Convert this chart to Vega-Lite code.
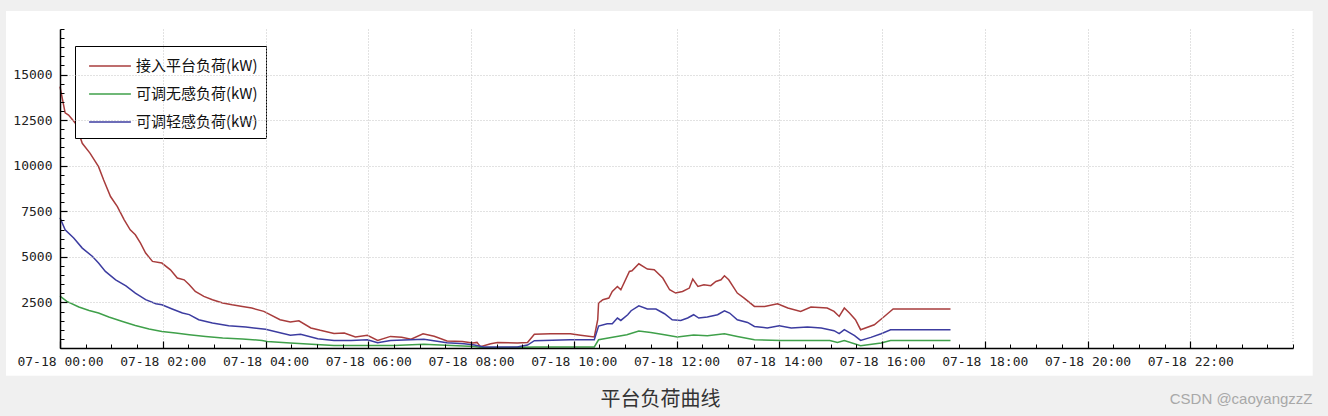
{
  "$schema": "https://vega.github.io/schema/vega-lite/v6.json",
  "width": 1233,
  "height": 319,
  "autosize": {"type": "none"},
  "padding": {"left": 60, "top": 29, "right": 35, "bottom": 68},
  "background": "#f0f0f0",
  "config": {"view": {"stroke": null}},
  "datasets": {
    "loads": [
      {"t": "2024-07-18T00:00", "s": "接入平台负荷(kW)", "v": 14340},
      {"t": "2024-07-18T00:06", "s": "接入平台负荷(kW)", "v": 12900},
      {"t": "2024-07-18T00:10", "s": "接入平台负荷(kW)", "v": 12780},
      {"t": "2024-07-18T00:18", "s": "接入平台负荷(kW)", "v": 12330},
      {"t": "2024-07-18T00:26", "s": "接入平台负荷(kW)", "v": 11230},
      {"t": "2024-07-18T00:35", "s": "接入平台负荷(kW)", "v": 10690},
      {"t": "2024-07-18T00:45", "s": "接入平台负荷(kW)", "v": 9950},
      {"t": "2024-07-18T00:51", "s": "接入平台负荷(kW)", "v": 9220},
      {"t": "2024-07-18T00:59", "s": "接入平台负荷(kW)", "v": 8310},
      {"t": "2024-07-18T01:07", "s": "接入平台负荷(kW)", "v": 7760},
      {"t": "2024-07-18T01:15", "s": "接入平台负荷(kW)", "v": 7030},
      {"t": "2024-07-18T01:22", "s": "接入平台负荷(kW)", "v": 6480},
      {"t": "2024-07-18T01:28", "s": "接入平台负荷(kW)", "v": 6210},
      {"t": "2024-07-18T01:34", "s": "接入平台负荷(kW)", "v": 5750},
      {"t": "2024-07-18T01:40", "s": "接入平台负荷(kW)", "v": 5210},
      {"t": "2024-07-18T01:48", "s": "接入平台负荷(kW)", "v": 4750},
      {"t": "2024-07-18T01:59", "s": "接入平台负荷(kW)", "v": 4660},
      {"t": "2024-07-18T02:09", "s": "接入平台负荷(kW)", "v": 4290},
      {"t": "2024-07-18T02:17", "s": "接入平台负荷(kW)", "v": 3840},
      {"t": "2024-07-18T02:25", "s": "接入平台负荷(kW)", "v": 3740},
      {"t": "2024-07-18T02:31", "s": "接入平台负荷(kW)", "v": 3470},
      {"t": "2024-07-18T02:38", "s": "接入平台负荷(kW)", "v": 3100},
      {"t": "2024-07-18T02:48", "s": "接入平台负荷(kW)", "v": 2830},
      {"t": "2024-07-18T02:58", "s": "接入平台负荷(kW)", "v": 2650},
      {"t": "2024-07-18T03:10", "s": "接入平台负荷(kW)", "v": 2470},
      {"t": "2024-07-18T03:21", "s": "接入平台负荷(kW)", "v": 2370},
      {"t": "2024-07-18T03:33", "s": "接入平台负荷(kW)", "v": 2280},
      {"t": "2024-07-18T03:44", "s": "接入平台负荷(kW)", "v": 2190},
      {"t": "2024-07-18T03:58", "s": "接入平台负荷(kW)", "v": 2010},
      {"t": "2024-07-18T04:17", "s": "接入平台负荷(kW)", "v": 1550},
      {"t": "2024-07-18T04:29", "s": "接入平台负荷(kW)", "v": 1430},
      {"t": "2024-07-18T04:39", "s": "接入平台负荷(kW)", "v": 1490},
      {"t": "2024-07-18T04:53", "s": "接入平台负荷(kW)", "v": 1100},
      {"t": "2024-07-18T05:04", "s": "接入平台负荷(kW)", "v": 970},
      {"t": "2024-07-18T05:20", "s": "接入平台负荷(kW)", "v": 800},
      {"t": "2024-07-18T05:32", "s": "接入平台负荷(kW)", "v": 820},
      {"t": "2024-07-18T05:45", "s": "接入平台负荷(kW)", "v": 610},
      {"t": "2024-07-18T05:59", "s": "接入平台负荷(kW)", "v": 700},
      {"t": "2024-07-18T06:11", "s": "接入平台负荷(kW)", "v": 420},
      {"t": "2024-07-18T06:26", "s": "接入平台负荷(kW)", "v": 636},
      {"t": "2024-07-18T06:39", "s": "接入平台负荷(kW)", "v": 590},
      {"t": "2024-07-18T06:50", "s": "接入平台负荷(kW)", "v": 480},
      {"t": "2024-07-18T07:04", "s": "接入平台负荷(kW)", "v": 780},
      {"t": "2024-07-18T07:17", "s": "接入平台负荷(kW)", "v": 640},
      {"t": "2024-07-18T07:32", "s": "接入平台负荷(kW)", "v": 390},
      {"t": "2024-07-18T07:50", "s": "接入平台负荷(kW)", "v": 360},
      {"t": "2024-07-18T08:02", "s": "接入平台负荷(kW)", "v": 274},
      {"t": "2024-07-18T08:07", "s": "接入平台负荷(kW)", "v": 307},
      {"t": "2024-07-18T08:11", "s": "接入平台负荷(kW)", "v": 70},
      {"t": "2024-07-18T08:23", "s": "接入平台负荷(kW)", "v": 236},
      {"t": "2024-07-18T08:31", "s": "接入平台负荷(kW)", "v": 307},
      {"t": "2024-07-18T08:54", "s": "接入平台负荷(kW)", "v": 274},
      {"t": "2024-07-18T09:06", "s": "接入平台负荷(kW)", "v": 307},
      {"t": "2024-07-18T09:14", "s": "接入平台负荷(kW)", "v": 750},
      {"t": "2024-07-18T09:33", "s": "接入平台负荷(kW)", "v": 784},
      {"t": "2024-07-18T09:56", "s": "接入平台负荷(kW)", "v": 784},
      {"t": "2024-07-18T10:08", "s": "接入平台负荷(kW)", "v": 700},
      {"t": "2024-07-18T10:24", "s": "接入平台负荷(kW)", "v": 603},
      {"t": "2024-07-18T10:28", "s": "接入平台负荷(kW)", "v": 1551},
      {"t": "2024-07-18T10:29", "s": "接入平台负荷(kW)", "v": 2466},
      {"t": "2024-07-18T10:34", "s": "接入平台负荷(kW)", "v": 2647},
      {"t": "2024-07-18T10:41", "s": "接入平台负荷(kW)", "v": 2740},
      {"t": "2024-07-18T10:45", "s": "接入平台负荷(kW)", "v": 3102},
      {"t": "2024-07-18T10:51", "s": "接入平台负荷(kW)", "v": 3376},
      {"t": "2024-07-18T10:55", "s": "接入平台负荷(kW)", "v": 3195},
      {"t": "2024-07-18T11:05", "s": "接入平台负荷(kW)", "v": 4198},
      {"t": "2024-07-18T11:08", "s": "接入平台负荷(kW)", "v": 4236},
      {"t": "2024-07-18T11:16", "s": "接入平台负荷(kW)", "v": 4620},
      {"t": "2024-07-18T11:26", "s": "接入平台负荷(kW)", "v": 4329},
      {"t": "2024-07-18T11:34", "s": "接入平台负荷(kW)", "v": 4291},
      {"t": "2024-07-18T11:44", "s": "接入平台负荷(kW)", "v": 3836},
      {"t": "2024-07-18T11:52", "s": "接入平台负荷(kW)", "v": 3195},
      {"t": "2024-07-18T11:59", "s": "接入平台负荷(kW)", "v": 3014},
      {"t": "2024-07-18T12:07", "s": "接入平台负荷(kW)", "v": 3102},
      {"t": "2024-07-18T12:15", "s": "接入平台负荷(kW)", "v": 3288},
      {"t": "2024-07-18T12:19", "s": "接入平台负荷(kW)", "v": 3781},
      {"t": "2024-07-18T12:25", "s": "接入平台负荷(kW)", "v": 3376},
      {"t": "2024-07-18T12:32", "s": "接入平台负荷(kW)", "v": 3469},
      {"t": "2024-07-18T12:40", "s": "接入平台负荷(kW)", "v": 3420},
      {"t": "2024-07-18T12:46", "s": "接入平台负荷(kW)", "v": 3650},
      {"t": "2024-07-18T12:52", "s": "接入平台负荷(kW)", "v": 3743},
      {"t": "2024-07-18T12:56", "s": "接入平台负荷(kW)", "v": 3962},
      {"t": "2024-07-18T13:01", "s": "接入平台负荷(kW)", "v": 3743},
      {"t": "2024-07-18T13:11", "s": "接入平台负荷(kW)", "v": 3014},
      {"t": "2024-07-18T13:19", "s": "接入平台负荷(kW)", "v": 2740},
      {"t": "2024-07-18T13:31", "s": "接入平台负荷(kW)", "v": 2280},
      {"t": "2024-07-18T13:43", "s": "接入平台负荷(kW)", "v": 2280},
      {"t": "2024-07-18T13:58", "s": "接入平台负荷(kW)", "v": 2428},
      {"t": "2024-07-18T14:10", "s": "接入平台负荷(kW)", "v": 2192},
      {"t": "2024-07-18T14:25", "s": "接入平台负荷(kW)", "v": 2006},
      {"t": "2024-07-18T14:37", "s": "接入平台负荷(kW)", "v": 2247},
      {"t": "2024-07-18T14:56", "s": "接入平台负荷(kW)", "v": 2192},
      {"t": "2024-07-18T15:04", "s": "接入平台负荷(kW)", "v": 2006},
      {"t": "2024-07-18T15:10", "s": "接入平台负荷(kW)", "v": 1732},
      {"t": "2024-07-18T15:16", "s": "接入平台负荷(kW)", "v": 2192},
      {"t": "2024-07-18T15:22", "s": "接入平台负荷(kW)", "v": 1918},
      {"t": "2024-07-18T15:29", "s": "接入平台负荷(kW)", "v": 1551},
      {"t": "2024-07-18T15:35", "s": "接入平台负荷(kW)", "v": 1003},
      {"t": "2024-07-18T15:51", "s": "接入平台负荷(kW)", "v": 1277},
      {"t": "2024-07-18T16:02", "s": "接入平台负荷(kW)", "v": 1699},
      {"t": "2024-07-18T16:13", "s": "接入平台负荷(kW)", "v": 2137},
      {"t": "2024-07-18T17:20", "s": "接入平台负荷(kW)", "v": 2137},

      {"t": "2024-07-18T00:00", "s": "可调无感负荷(kW)", "v": 2850},
      {"t": "2024-07-18T00:08", "s": "可调无感负荷(kW)", "v": 2554},
      {"t": "2024-07-18T00:22", "s": "可调无感负荷(kW)", "v": 2247},
      {"t": "2024-07-18T00:34", "s": "可调无感负荷(kW)", "v": 2060},
      {"t": "2024-07-18T00:45", "s": "可调无感负荷(kW)", "v": 1918},
      {"t": "2024-07-18T00:57", "s": "可调无感负荷(kW)", "v": 1699},
      {"t": "2024-07-18T01:13", "s": "可调无感负荷(kW)", "v": 1458},
      {"t": "2024-07-18T01:28", "s": "可调无感负荷(kW)", "v": 1238},
      {"t": "2024-07-18T01:44", "s": "可调无感负荷(kW)", "v": 1041},
      {"t": "2024-07-18T01:59", "s": "可调无感负荷(kW)", "v": 910},
      {"t": "2024-07-18T02:15", "s": "可调无感负荷(kW)", "v": 822},
      {"t": "2024-07-18T02:31", "s": "可调无感负荷(kW)", "v": 729},
      {"t": "2024-07-18T02:50", "s": "可调无感负荷(kW)", "v": 636},
      {"t": "2024-07-18T03:10", "s": "可调无感负荷(kW)", "v": 548},
      {"t": "2024-07-18T03:33", "s": "可调无感负荷(kW)", "v": 493},
      {"t": "2024-07-18T03:56", "s": "可调无感负荷(kW)", "v": 416},
      {"t": "2024-07-18T04:02", "s": "可调无感负荷(kW)", "v": 362},
      {"t": "2024-07-18T04:29", "s": "可调无感负荷(kW)", "v": 274},
      {"t": "2024-07-18T05:04", "s": "可调无感负荷(kW)", "v": 181},
      {"t": "2024-07-18T05:20", "s": "可调无感负荷(kW)", "v": 142},
      {"t": "2024-07-18T06:30", "s": "可调无感负荷(kW)", "v": 142},
      {"t": "2024-07-18T07:05", "s": "可调无感负荷(kW)", "v": 200},
      {"t": "2024-07-18T07:17", "s": "可调无感负荷(kW)", "v": 181},
      {"t": "2024-07-18T08:04", "s": "可调无感负荷(kW)", "v": 88},
      {"t": "2024-07-18T08:15", "s": "可调无感负荷(kW)", "v": 10},
      {"t": "2024-07-18T09:14", "s": "可调无感负荷(kW)", "v": 55},
      {"t": "2024-07-18T10:24", "s": "可调无感负荷(kW)", "v": 55},
      {"t": "2024-07-18T10:29", "s": "可调无感负荷(kW)", "v": 450},
      {"t": "2024-07-18T10:47", "s": "可调无感负荷(kW)", "v": 603},
      {"t": "2024-07-18T11:02", "s": "可调无感负荷(kW)", "v": 729},
      {"t": "2024-07-18T11:16", "s": "可调无感负荷(kW)", "v": 932},
      {"t": "2024-07-18T11:30", "s": "可调无感负荷(kW)", "v": 855},
      {"t": "2024-07-18T11:46", "s": "可调无感负荷(kW)", "v": 729},
      {"t": "2024-07-18T12:01", "s": "可调无感负荷(kW)", "v": 603},
      {"t": "2024-07-18T12:20", "s": "可调无感负荷(kW)", "v": 712},
      {"t": "2024-07-18T12:36", "s": "可调无感负荷(kW)", "v": 674},
      {"t": "2024-07-18T12:56", "s": "可调无感负荷(kW)", "v": 784},
      {"t": "2024-07-18T13:11", "s": "可调无感负荷(kW)", "v": 636},
      {"t": "2024-07-18T13:31", "s": "可调无感负荷(kW)", "v": 455},
      {"t": "2024-07-18T14:02", "s": "可调无感负荷(kW)", "v": 416},
      {"t": "2024-07-18T14:59", "s": "可调无感负荷(kW)", "v": 416},
      {"t": "2024-07-18T15:08", "s": "可调无感负荷(kW)", "v": 307},
      {"t": "2024-07-18T15:16", "s": "可调无感负荷(kW)", "v": 416},
      {"t": "2024-07-18T15:35", "s": "可调无感负荷(kW)", "v": 126},
      {"t": "2024-07-18T15:59", "s": "可调无感负荷(kW)", "v": 274},
      {"t": "2024-07-18T16:10", "s": "可调无感负荷(kW)", "v": 416},
      {"t": "2024-07-18T17:20", "s": "可调无感负荷(kW)", "v": 416},

      {"t": "2024-07-18T00:00", "s": "可调轻感负荷(kW)", "v": 7150},
      {"t": "2024-07-18T00:06", "s": "可调轻感负荷(kW)", "v": 6480},
      {"t": "2024-07-18T00:16", "s": "可调轻感负荷(kW)", "v": 6030},
      {"t": "2024-07-18T00:26", "s": "可调轻感负荷(kW)", "v": 5480},
      {"t": "2024-07-18T00:38", "s": "可调轻感负荷(kW)", "v": 5020},
      {"t": "2024-07-18T00:45", "s": "可调轻感负荷(kW)", "v": 4660},
      {"t": "2024-07-18T00:53", "s": "可调轻感负荷(kW)", "v": 4200},
      {"t": "2024-07-18T01:05", "s": "可调轻感负荷(kW)", "v": 3740},
      {"t": "2024-07-18T01:17", "s": "可调轻感负荷(kW)", "v": 3410},
      {"t": "2024-07-18T01:28", "s": "可调轻感负荷(kW)", "v": 3010},
      {"t": "2024-07-18T01:40", "s": "可调轻感负荷(kW)", "v": 2650},
      {"t": "2024-07-18T01:52", "s": "可调轻感负荷(kW)", "v": 2430},
      {"t": "2024-07-18T01:59", "s": "可调轻感负荷(kW)", "v": 2370},
      {"t": "2024-07-18T02:11", "s": "可调轻感负荷(kW)", "v": 2140},
      {"t": "2024-07-18T02:23", "s": "可调轻感负荷(kW)", "v": 1920},
      {"t": "2024-07-18T02:31", "s": "可调轻感负荷(kW)", "v": 1830},
      {"t": "2024-07-18T02:42", "s": "可调轻感负荷(kW)", "v": 1550},
      {"t": "2024-07-18T02:58", "s": "可调轻感负荷(kW)", "v": 1370},
      {"t": "2024-07-18T03:17", "s": "可调轻感负荷(kW)", "v": 1220},
      {"t": "2024-07-18T03:37", "s": "可调轻感负荷(kW)", "v": 1150},
      {"t": "2024-07-18T04:00", "s": "可调轻感负荷(kW)", "v": 1030},
      {"t": "2024-07-18T04:29", "s": "可调轻感负荷(kW)", "v": 700},
      {"t": "2024-07-18T04:41", "s": "可调轻感负荷(kW)", "v": 750},
      {"t": "2024-07-18T05:01", "s": "可调轻感负荷(kW)", "v": 510},
      {"t": "2024-07-18T05:20", "s": "可调轻感负荷(kW)", "v": 416},
      {"t": "2024-07-18T05:40", "s": "可调轻感负荷(kW)", "v": 416},
      {"t": "2024-07-18T05:59", "s": "可调轻感负荷(kW)", "v": 455},
      {"t": "2024-07-18T06:11", "s": "可调轻感负荷(kW)", "v": 290},
      {"t": "2024-07-18T06:26", "s": "可调轻感负荷(kW)", "v": 416},
      {"t": "2024-07-18T07:05", "s": "可调轻感负荷(kW)", "v": 475},
      {"t": "2024-07-18T07:32", "s": "可调轻感负荷(kW)", "v": 290},
      {"t": "2024-07-18T07:52", "s": "可调轻感负荷(kW)", "v": 236},
      {"t": "2024-07-18T08:04", "s": "可调轻感负荷(kW)", "v": 160},
      {"t": "2024-07-18T08:15", "s": "可调轻感负荷(kW)", "v": 55},
      {"t": "2024-07-18T08:54", "s": "可调轻感负荷(kW)", "v": 55},
      {"t": "2024-07-18T09:06", "s": "可调轻感负荷(kW)", "v": 164},
      {"t": "2024-07-18T09:14", "s": "可调轻感负荷(kW)", "v": 400},
      {"t": "2024-07-18T09:56", "s": "可调轻感负荷(kW)", "v": 455},
      {"t": "2024-07-18T10:24", "s": "可调轻感负荷(kW)", "v": 455},
      {"t": "2024-07-18T10:29", "s": "可调轻感负荷(kW)", "v": 1200},
      {"t": "2024-07-18T10:39", "s": "可调轻感负荷(kW)", "v": 1332},
      {"t": "2024-07-18T10:45", "s": "可调轻感负荷(kW)", "v": 1332},
      {"t": "2024-07-18T10:51", "s": "可调轻感负荷(kW)", "v": 1644},
      {"t": "2024-07-18T10:55", "s": "可调轻感负荷(kW)", "v": 1512},
      {"t": "2024-07-18T11:03", "s": "可调轻感负荷(kW)", "v": 1825},
      {"t": "2024-07-18T11:07", "s": "可调轻感负荷(kW)", "v": 2044},
      {"t": "2024-07-18T11:16", "s": "可调轻感负荷(kW)", "v": 2318},
      {"t": "2024-07-18T11:26", "s": "可调轻感负荷(kW)", "v": 2137},
      {"t": "2024-07-18T11:36", "s": "可调轻感负荷(kW)", "v": 2137},
      {"t": "2024-07-18T11:46", "s": "可调轻感负荷(kW)", "v": 1880},
      {"t": "2024-07-18T11:55", "s": "可调轻感负荷(kW)", "v": 1551},
      {"t": "2024-07-18T12:05", "s": "可调轻感负荷(kW)", "v": 1512},
      {"t": "2024-07-18T12:13", "s": "可调轻感负荷(kW)", "v": 1644},
      {"t": "2024-07-18T12:20", "s": "可调轻感负荷(kW)", "v": 1825},
      {"t": "2024-07-18T12:26", "s": "可调轻感负荷(kW)", "v": 1644},
      {"t": "2024-07-18T12:36", "s": "可调轻感负荷(kW)", "v": 1699},
      {"t": "2024-07-18T12:48", "s": "可调轻感负荷(kW)", "v": 1825},
      {"t": "2024-07-18T12:56", "s": "可调轻感负荷(kW)", "v": 2044},
      {"t": "2024-07-18T13:02", "s": "可调轻感负荷(kW)", "v": 1918},
      {"t": "2024-07-18T13:11", "s": "可调轻感负荷(kW)", "v": 1551},
      {"t": "2024-07-18T13:23", "s": "可调轻感负荷(kW)", "v": 1403},
      {"t": "2024-07-18T13:31", "s": "可调轻感负荷(kW)", "v": 1184},
      {"t": "2024-07-18T13:46", "s": "可调轻感负荷(kW)", "v": 1096},
      {"t": "2024-07-18T14:00", "s": "可调轻感负荷(kW)", "v": 1222},
      {"t": "2024-07-18T14:14", "s": "可调轻感负荷(kW)", "v": 1096},
      {"t": "2024-07-18T14:33", "s": "可调轻感负荷(kW)", "v": 1151},
      {"t": "2024-07-18T14:49", "s": "可调轻感负荷(kW)", "v": 1096},
      {"t": "2024-07-18T15:04", "s": "可调轻感负荷(kW)", "v": 948},
      {"t": "2024-07-18T15:10", "s": "可调轻感负荷(kW)", "v": 784},
      {"t": "2024-07-18T15:16", "s": "可调轻感负荷(kW)", "v": 1003},
      {"t": "2024-07-18T15:28", "s": "可调轻感负荷(kW)", "v": 674},
      {"t": "2024-07-18T15:35", "s": "可调轻感负荷(kW)", "v": 416},
      {"t": "2024-07-18T15:47", "s": "可调轻感负荷(kW)", "v": 581},
      {"t": "2024-07-18T15:59", "s": "可调轻感负荷(kW)", "v": 784},
      {"t": "2024-07-18T16:10", "s": "可调轻感负荷(kW)", "v": 1003},
      {"t": "2024-07-18T17:20", "s": "可调轻感负荷(kW)", "v": 1003}
    ]
  },
  "resolve": {"axis": {"x": "independent", "y": "independent"}},
  "layer": [
    {
      "data": {"values": [{"a": 1}]},
      "mark": {"type": "rect", "fill": "white", "clip": false},
      "encoding": {
        "x": {
          "datum": {"year": 2024, "month": 7, "date": 17, "hours": 22, "minutes": 57},
          "type": "temporal",
          "scale": {"domain": [{"year": 2024, "month": 7, "date": 18, "hours": 0}, {"year": 2024, "month": 7, "date": 19, "hours": 0}]},
          "axis": {
            "orient": "bottom", "zindex": 1, "domain": false, "labels": false, "grid": false,
            "tickCount": 48,
            "ticks": true, "tickSize": -4, "tickColor": "#000", "tickWidth": 1,
            "title": "CSDN @caoyangzzZ",
            "titleFont": "Liberation Sans", "titleFontSize": 15, "titleFontWeight": "normal",
            "titleColor": "#a8a8a8", "titleX": 1252, "titleY": 50,
            "titleAlign": "right", "titleBaseline": "middle"
          }
        },
        "x2": {"datum": {"year": 2024, "month": 7, "date": 19, "hours": 0, "minutes": 23}},
        "y": {
          "datum": -1518,
          "type": "quantitative",
          "scale": {"domain": [0, 17500], "nice": false, "zero": false},
          "axis": {
            "orient": "left", "zindex": 1, "domain": false, "labels": false, "grid": false,
            "values": [0, 500, 1000, 1500, 2000, 2500, 3000, 3500, 4000, 4500, 5000, 5500, 6000, 6500, 7000, 7500, 8000, 8500, 9000, 9500, 10000, 10500, 11000, 11500, 12000, 12500, 13000, 13500, 14000, 14500, 15000, 15500, 16000, 16500, 17000, 17500],
            "ticks": true, "tickSize": -4, "tickColor": "#000", "tickWidth": 1,
            "title": null
          }
        },
        "y2": {"datum": 18492}
      }
    },
    {
      "data": {"values": [{"a": 1}]},
      "mark": {"type": "rule", "color": "#c4c4c4", "strokeDash": [1, 2], "strokeWidth": 1},
      "encoding": {
        "x": {"datum": {"year": 2024, "month": 7, "date": 19, "hours": 0}, "type": "temporal", "axis": null}
      }
    },
    {
      "data": {"name": "loads"},
      "mark": {"type": "line", "strokeWidth": 1.5, "interpolate": "linear"},
      "encoding": {
        "x": {
          "field": "t",
          "type": "temporal",
          "axis": {
            "orient": "bottom", "zindex": 1,
            "values": [
              {"year": 2024, "month": 7, "date": 18, "hours": 0},
              {"year": 2024, "month": 7, "date": 18, "hours": 2},
              {"year": 2024, "month": 7, "date": 18, "hours": 4},
              {"year": 2024, "month": 7, "date": 18, "hours": 6},
              {"year": 2024, "month": 7, "date": 18, "hours": 8},
              {"year": 2024, "month": 7, "date": 18, "hours": 10},
              {"year": 2024, "month": 7, "date": 18, "hours": 12},
              {"year": 2024, "month": 7, "date": 18, "hours": 14},
              {"year": 2024, "month": 7, "date": 18, "hours": 16},
              {"year": 2024, "month": 7, "date": 18, "hours": 18},
              {"year": 2024, "month": 7, "date": 18, "hours": 20},
              {"year": 2024, "month": 7, "date": 18, "hours": 22}
            ],
            "format": "%m-%d %H:%M",
            "labelFont": "DejaVu Sans Mono", "labelFontSize": 13, "labelColor": "#222",
            "labelOverlap": false, "labelFlush": false, "labelAlign": "center",
            "labelPadding": 14, "labelBaseline": "top",
            "domain": true, "domainColor": "#000", "domainWidth": 1.5,
            "ticks": true, "tickSize": -7, "tickColor": "#000", "tickWidth": 1.2,
            "grid": true, "gridColor": "#c4c4c4", "gridDash": [1, 2], "gridWidth": 1,
            "title": "平台负荷曲线",
            "titleFont": "Noto Sans CJK SC", "titleFontSize": 20, "titleFontWeight": "normal",
            "titleColor": "#333", "titleX": 600, "titleY": 51,
            "titleAlign": "center", "titleBaseline": "middle"
          }
        },
        "y": {
          "field": "v",
          "type": "quantitative",
          "axis": {
            "orient": "left", "zindex": 1,
            "values": [2500, 5000, 7500, 10000, 12500, 15000],
            "format": "d",
            "labelFont": "DejaVu Sans Mono", "labelFontSize": 13, "labelColor": "#222",
            "labelPadding": 15,
            "domain": true, "domainColor": "#000", "domainWidth": 1.5,
            "ticks": true, "tickSize": -7, "tickColor": "#000", "tickWidth": 1.2,
            "grid": true, "gridColor": "#c4c4c4", "gridDash": [1, 2], "gridWidth": 1,
            "title": null
          }
        },
        "color": {
          "field": "s",
          "type": "nominal",
          "scale": {
            "domain": ["接入平台负荷(kW)", "可调无感负荷(kW)", "可调轻感负荷(kW)"],
            "range": ["#a83c3c", "#3fa04a", "#3c3ca0"]
          },
          "legend": {
            "orient": "none", "legendX": 15, "legendY": 17,
            "title": null,
            "fillColor": "white", "strokeColor": "#000",
            "padding": 8,
            "symbolType": "M-1.9,0H1.9", "symbolSize": 484, "symbolStrokeWidth": 1.5,
            "symbolOffset": 15, "labelOffset": 14, "rowPadding": 8,
            "labelFont": "Noto Sans CJK SC", "labelFontSize": 15, "labelColor": "#111",
            "labelLimit": 300
          }
        }
      }
    }
  ]
}
